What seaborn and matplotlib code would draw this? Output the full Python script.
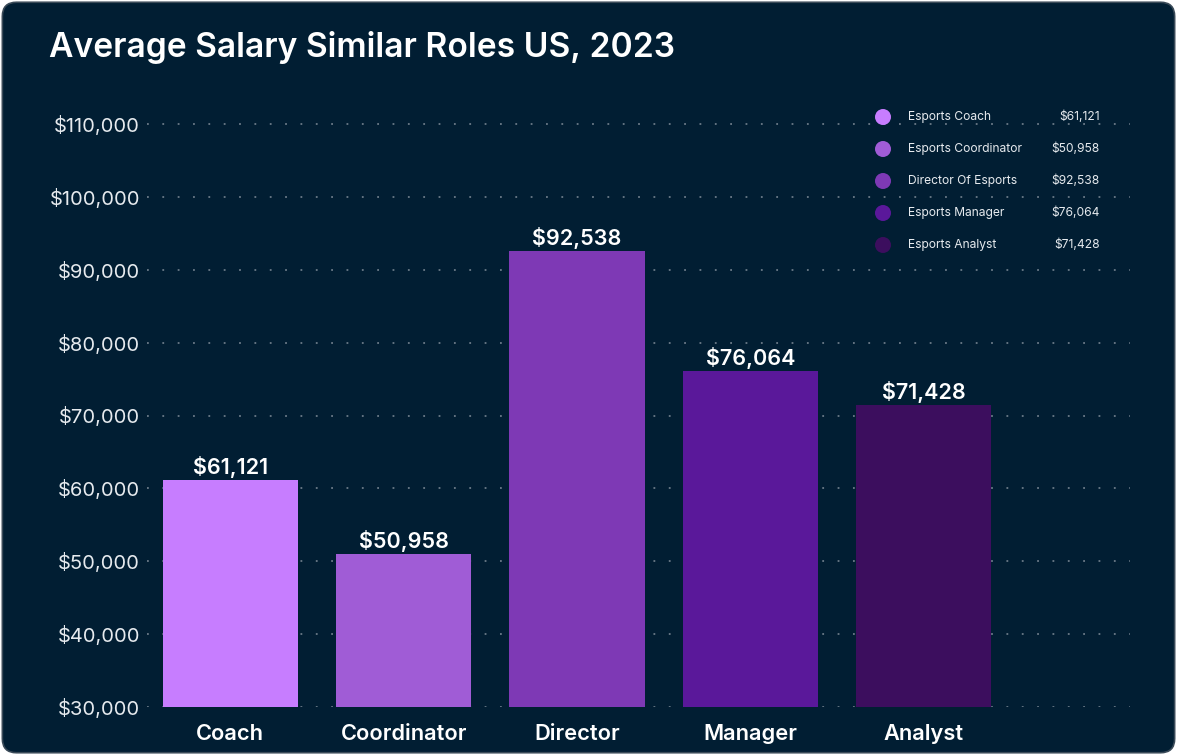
import matplotlib
matplotlib.use("Agg")
import matplotlib.pyplot as plt
import seaborn as sns
import pandas as pd
from matplotlib.patches import FancyBboxPatch, Ellipse

# chart data
roles = ['Coach', 'Coordinator', 'Director', 'Manager', 'Analyst']
legend_names = ['Esports Coach', 'Esports Coordinator', 'Director Of Esports', 'Esports Manager', 'Esports Analyst']
salaries = [61121, 50958, 92538, 76064, 71428]
colors = ['#C77DFF', '#A05CD6', '#7E39B5', '#5A189A', '#3C0E5E']
yticks = [30000, 40000, 50000, 60000, 70000, 80000, 90000, 100000, 110000]

bg = '#011E33'
df = pd.DataFrame({'role': roles, 'salary': salaries})

sns.set_theme(style='dark')
plt.rcParams['font.family'] = ['Inter', 'DejaVu Sans']

fig = plt.figure(figsize=(11.77, 7.55), dpi=100)
fig.patch.set_facecolor('white')
# rounded card behind everything
card = FancyBboxPatch((0.002, 0.003), 0.996, 0.994, boxstyle='round,pad=0,rounding_size=0.012',
                      transform=fig.transFigure, facecolor=bg, edgecolor='#3a4a58', linewidth=1.2,
                      mutation_aspect=1177 / 755, zorder=-10)
fig.patches.append(card)

ax = fig.add_axes([147 / 1177, 48 / 755, (1130 - 147) / 1177, (707 - 110) / 755])
ax.set_facecolor(bg)

sns.barplot(data=df, x='role', y='salary', hue='role', palette=colors, legend=False,
            width=0.78, saturation=1, linewidth=0, ax=ax, zorder=3)

# y range so 30k sits at bottom and 110k at px 124
px_per = (707 - 124) / 80000
top = 30000 + (707 - 110) / px_per
ax.set_ylim(30000, top)
ax.set_xlim(-0.48, 5.19)
ax.set_yticks(yticks)
ax.set_yticklabels([f'${v:,}' for v in yticks], color='#E6EAEE', fontsize=14.5)
ax.tick_params(axis='y', length=0, pad=5)
ax.tick_params(axis='x', length=0, pad=12)
for lbl in ax.get_xticklabels():
    lbl.set_color('white')
    lbl.set_fontsize(15.7)
    lbl.set_fontweight('semibold')
ax.set_xlabel('')
ax.set_ylabel('')
ax.yaxis.grid(True, color='#6b7a88', linestyle=(0, (1, 7.5)), linewidth=1.3, zorder=0)
ax.xaxis.grid(False)
for s in ax.spines.values():
    s.set_visible(False)

for i, v in enumerate(salaries):
    ax.annotate(f'${v:,}', (i, v), xytext=(0, 1.5), textcoords='offset points', ha='center',
                va='bottom', color='white', fontsize=15.5, fontweight='semibold')

fig.text(49 / 1177, 1 - 47 / 755, 'Average Salary Similar Roles US, 2023', color='white',
         fontsize=24.2, fontweight='semibold', va='center', ha='left')

# custom legend
for i, (name, val, col) in enumerate(zip(legend_names, salaries, colors)):
    y = 1 - (117 + 32 * i) / 755
    fig.patches.append(Ellipse((883 / 1177, y), 16 / 1177, 16 / 755, transform=fig.transFigure,
                               facecolor=col, edgecolor='none'))
    fig.text(908 / 1177, y, name, color='#E6EAEE', fontsize=8.7, va='center', ha='left')
    fig.text(1100 / 1177, y, f'${val:,}', color='#E6EAEE', fontsize=8.7, va='center', ha='right')

fig.savefig('out.png', dpi=100, facecolor=fig.get_facecolor())
